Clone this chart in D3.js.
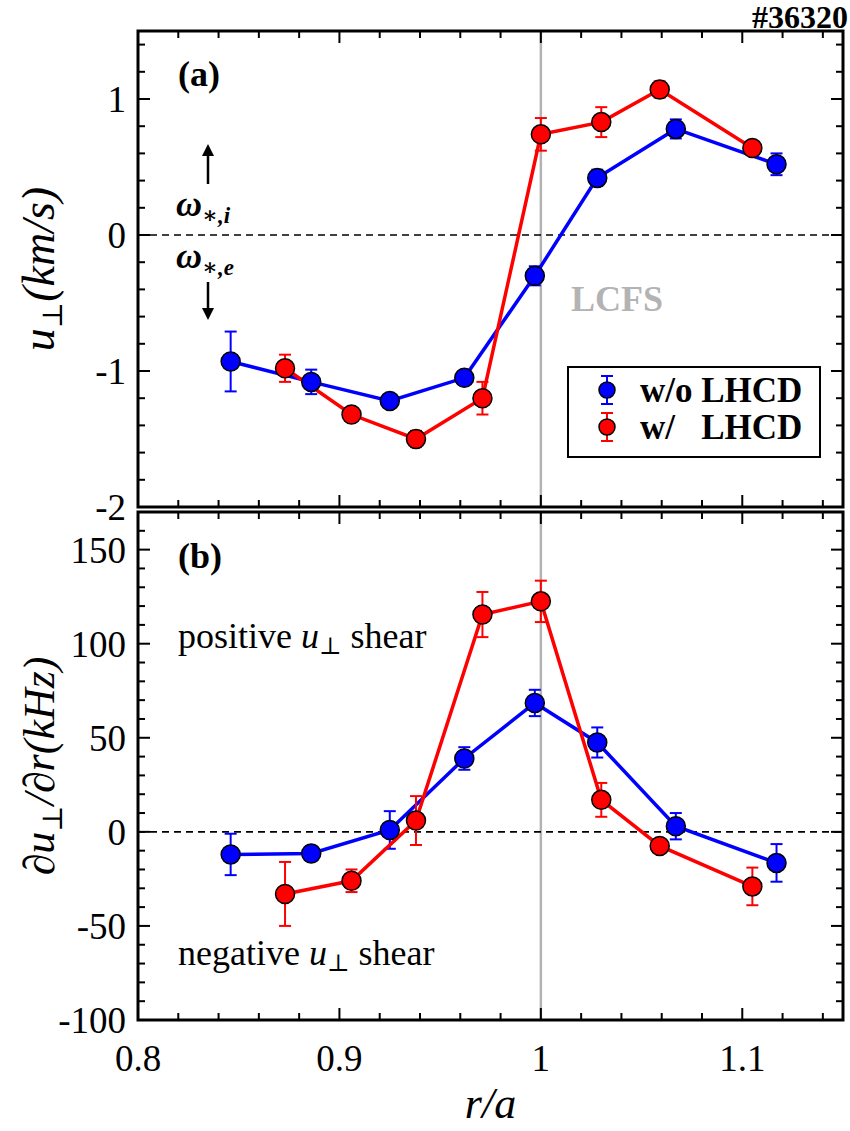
<!DOCTYPE html>
<html>
<head>
<meta charset="utf-8">
<script src="https://cdn.jsdelivr.net/npm/d3@7"></script>
<style>
  body { margin: 0; background: #fff; }
  svg { display: block; font-family: "Liberation Serif", "DejaVu Serif", serif; }
</style>
</head>
<body>
<svg id="chart" width="850" height="1131"></svg>
<script>
// r/a positions of the probes
var rBlue = [0.846, 0.886, 0.925, 0.962, 0.997, 1.028, 1.067, 1.117];
var rRed  = [0.873, 0.906, 0.938, 0.971, 1.000, 1.030, 1.059, 1.105];

// (a) perpendicular velocity, km/s
var uBlue    = [-0.93, -1.08, -1.22, -1.05, -0.30, 0.42, 0.78, 0.52];
var uBlueErr = [0.22, 0.09, 0.03, 0.03, 0.07, 0.06, 0.07, 0.08];
var uRed     = [-0.98, -1.32, -1.50, -1.20, 0.74, 0.83, 1.07, 0.64];
var uRedErr  = [0.10, 0.02, 0.06, 0.12, 0.12, 0.11, 0.06, 0.02];

// (b) velocity shear, kHz
var sBlue    = [-12, -11.5, 1, 39, 68.5, 47.5, 3, -16.5];
var sBlueErr = [11, 4, 10, 6, 7, 8, 7, 10];
var sRed     = [-33, -26, 6, 115.5, 122.5, 17, -7.5, -29];
var sRedErr  = [17, 6, 13, 12, 11, 9, 2, 10];

var xTicks = [0.8, 0.9, 1, 1.1];
var uTicks = [-2, -1, 0, 1];
var sTicks = [-100, -50, 0, 50, 100, 150];

var blue = "#0000ff", red = "#ff0000";

var svg = d3.select("#chart");

var x = d3.scaleLinear().domain([0.8, 1.15]).range([138, 843]);
var yU = d3.scaleLinear().domain([-2, 1.5]).range([507, 31]);
var yS = d3.scaleLinear().domain([-100, 170]).range([1020, 512]);

function seq(a, b, step) {
  var out = [];
  for (var v = a; v <= b + 1e-9; v += step) out.push(+v.toFixed(4));
  return out;
}

function panel(y, yt, yMinor, vals) {
  var g = svg.append("g");
  var x0 = x.range()[0], x1 = x.range()[1];
  var yb = y.range()[0], ytop = y.range()[1];

  // LCFS line
  g.append("line")
    .attr("x1", x(1)).attr("x2", x(1))
    .attr("y1", ytop).attr("y2", yb)
    .attr("stroke", "#b3b3b3").attr("stroke-width", 2.5);

  // zero line
  g.append("line")
    .attr("x1", x0).attr("x2", x1)
    .attr("y1", y(0)).attr("y2", y(0))
    .attr("stroke", "#000").attr("stroke-width", 1.6)
    .attr("stroke-dasharray", "7,5");

  vals.forEach(function (s) {
    var pts = s.r.map(function (r, i) { return {r: r, v: s.v[i], e: s.e[i]}; });
    var eb = g.append("g").attr("stroke", s.c).attr("stroke-width", 2);
    eb.selectAll("line.v").data(pts).enter().append("line")
      .attr("x1", d => x(d.r)).attr("x2", d => x(d.r))
      .attr("y1", d => y(d.v - d.e)).attr("y2", d => y(d.v + d.e));
    eb.selectAll("line.t").data(pts).enter().append("line")
      .attr("x1", d => x(d.r) - 6).attr("x2", d => x(d.r) + 6)
      .attr("y1", d => y(d.v + d.e)).attr("y2", d => y(d.v + d.e));
    eb.selectAll("line.b").data(pts).enter().append("line")
      .attr("x1", d => x(d.r) - 6).attr("x2", d => x(d.r) + 6)
      .attr("y1", d => y(d.v - d.e)).attr("y2", d => y(d.v - d.e));
    g.append("path")
      .attr("d", d3.line().x(d => x(d.r)).y(d => y(d.v))(pts))
      .attr("fill", "none").attr("stroke", s.c).attr("stroke-width", 3.5);
  });
  vals.forEach(function (s) {
    g.selectAll(null).data(s.r).enter().append("circle")
      .attr("cx", d => x(d)).attr("cy", (d, i) => y(s.v[i]))
      .attr("r", 9.5).attr("fill", s.c)
      .attr("stroke", "#000").attr("stroke-width", 1.5);
  });

  // ticks, inward on all sides
  var tk = g.append("g").attr("stroke", "#000").attr("stroke-width", 2);
  seq(0.8, 1.15, 0.02).forEach(function (t) {
    var major = xTicks.some(m => Math.abs(m - t) < 1e-6);
    var len = major ? 12 : 7;
    tk.append("line").attr("x1", x(t)).attr("x2", x(t)).attr("y1", yb).attr("y2", yb - len);
    tk.append("line").attr("x1", x(t)).attr("x2", x(t)).attr("y1", ytop).attr("y2", ytop + len);
  });
  yMinor.forEach(function (t) {
    var major = yt.some(m => Math.abs(m - t) < 1e-6);
    var len = major ? 12 : 7;
    tk.append("line").attr("y1", y(t)).attr("y2", y(t)).attr("x1", x0).attr("x2", x0 + len);
    tk.append("line").attr("y1", y(t)).attr("y2", y(t)).attr("x1", x1).attr("x2", x1 - len);
  });

  g.append("rect")
    .attr("x", x0).attr("y", ytop)
    .attr("width", x1 - x0).attr("height", yb - ytop)
    .attr("fill", "none").attr("stroke", "#000").attr("stroke-width", 3);

  // y tick labels
  g.append("g").selectAll("text").data(yt).enter().append("text")
    .attr("x", x0 - 12).attr("y", d => y(d))
    .attr("dy", "0.35em")
    .attr("text-anchor", "end")
    .attr("font-size", 37)
    .text(d => d < 0 ? "-" + Math.abs(d) : d);
  return g;
}

panel(yU, uTicks, seq(-2, 1.5, 0.2), [
  {r: rBlue, v: uBlue, e: uBlueErr, c: blue},
  {r: rRed, v: uRed, e: uRedErr, c: red}
]);
panel(yS, sTicks, seq(-100, 170, 10), [
  {r: rBlue, v: sBlue, e: sBlueErr, c: blue},
  {r: rRed, v: sRed, e: sRedErr, c: red}
]);

// x tick labels
svg.append("g").selectAll("text").data(xTicks).enter().append("text")
  .attr("x", d => x(d)).attr("y", 1071)
  .attr("text-anchor", "middle")
  .attr("font-size", 37)
  .text(d => d);

// axis labels
svg.append("text")
  .attr("x", x(0.975)).attr("y", 1118)
  .attr("text-anchor", "middle").attr("font-size", 44).attr("font-style", "italic")
  .text("r/a");

var la = svg.append("text")
  .attr("transform", "translate(54," + yU(-0.25) + ") rotate(-90)")
  .attr("text-anchor", "middle").attr("font-size", 46).attr("font-style", "italic");
la.append("tspan").text("u");
la.append("tspan").attr("font-size", 28).attr("dy", 8).attr("font-style", "normal").text("⊥");
la.append("tspan").attr("dy", -8).text("(km/s)");

var lb = svg.append("text")
  .attr("transform", "translate(54," + yS(35) + ") rotate(-90)")
  .attr("text-anchor", "middle").attr("font-size", 44).attr("font-style", "italic");
lb.append("tspan").text("∂u");
lb.append("tspan").attr("font-size", 28).attr("dy", 8).attr("font-style", "normal").text("⊥");
lb.append("tspan").attr("dy", -8).text("/∂r(kHz)");

// panel labels & annotations
svg.append("text").attr("x", 178).attr("y", 86).attr("font-size", 36).attr("font-weight", "bold").text("(a)");
svg.append("text").attr("x", 178).attr("y", 568).attr("font-size", 36).attr("font-weight", "bold").text("(b)");
svg.append("text").attr("x", 848).attr("y", 28).attr("text-anchor", "end")
  .attr("font-size", 32).attr("font-weight", "bold").text("#36320");
svg.append("text").attr("x", 571).attr("y", 311).attr("font-size", 36)
  .attr("font-weight", "bold").attr("fill", "#b3b3b3").text("LCFS");

function shear(y0, word) {
  var t = svg.append("text").attr("x", 178).attr("y", y0).attr("font-size", 36);
  t.append("tspan").text(word + " ");
  t.append("tspan").attr("font-style", "italic").text("u");
  t.append("tspan").attr("font-size", 24).attr("dy", 6).text("⊥");
  t.append("tspan").attr("dy", -6).text(" shear");
}
shear(yS(100) + 4, "positive");
shear(yS(-60) + 20, "negative");

// omega annotations
svg.append("defs").append("marker")
  .attr("id", "arr").attr("viewBox", "0 0 10 10")
  .attr("refX", 5).attr("refY", 5)
  .attr("markerWidth", 12).attr("markerHeight", 12)
  .attr("orient", "auto-start-reverse")
  .attr("markerUnits", "userSpaceOnUse")
  .append("path").attr("d", "M0,0 L10,5 L0,10 Z").attr("fill", "#000");

svg.append("line").attr("x1", 208).attr("x2", 208).attr("y1", 184).attr("y2", 150)
  .attr("stroke", "#000").attr("stroke-width", 2.5).attr("marker-end", "url(#arr)");
svg.append("line").attr("x1", 208).attr("x2", 208).attr("y1", 282).attr("y2", 314)
  .attr("stroke", "#000").attr("stroke-width", 2.5).attr("marker-end", "url(#arr)");

function omega(y0, sub) {
  var t = svg.append("text").attr("x", 176).attr("y", y0)
    .attr("font-size", 36).attr("font-weight", "bold").attr("font-style", "italic");
  t.append("tspan").text("ω");
  t.append("tspan").attr("font-size", 23).attr("dy", 7).text("∗," + sub);
}
omega(216, "i");
omega(268, "e");

// legend
var lg = svg.append("g").attr("transform", "translate(568,367)");
lg.append("rect").attr("width", 252).attr("height", 90)
  .attr("fill", "#fff").attr("stroke", "#000").attr("stroke-width", 2);
var legendItems = [{c: blue, t: "w/o LHCD", y: 23}, {c: red, t: "w/   LHCD", y: 60}];
legendItems.forEach(function (d) {
  var g = lg.append("g").attr("transform", "translate(39," + d.y + ")");
  g.append("line").attr("y1", -14).attr("y2", 14).attr("stroke", d.c).attr("stroke-width", 2);
  g.append("line").attr("x1", -6).attr("x2", 6).attr("y1", -14).attr("y2", -14).attr("stroke", d.c).attr("stroke-width", 2);
  g.append("line").attr("x1", -6).attr("x2", 6).attr("y1", 14).attr("y2", 14).attr("stroke", d.c).attr("stroke-width", 2);
  g.append("circle").attr("r", 8).attr("fill", d.c).attr("stroke", "#000").attr("stroke-width", 1.5);
  lg.append("text").attr("x", 72).attr("y", d.y).attr("dy", "0.35em")
    .attr("font-size", 35).attr("font-weight", "bold")
    .style("white-space", "pre").text(d.t);
});
</script>
</body>
</html>
